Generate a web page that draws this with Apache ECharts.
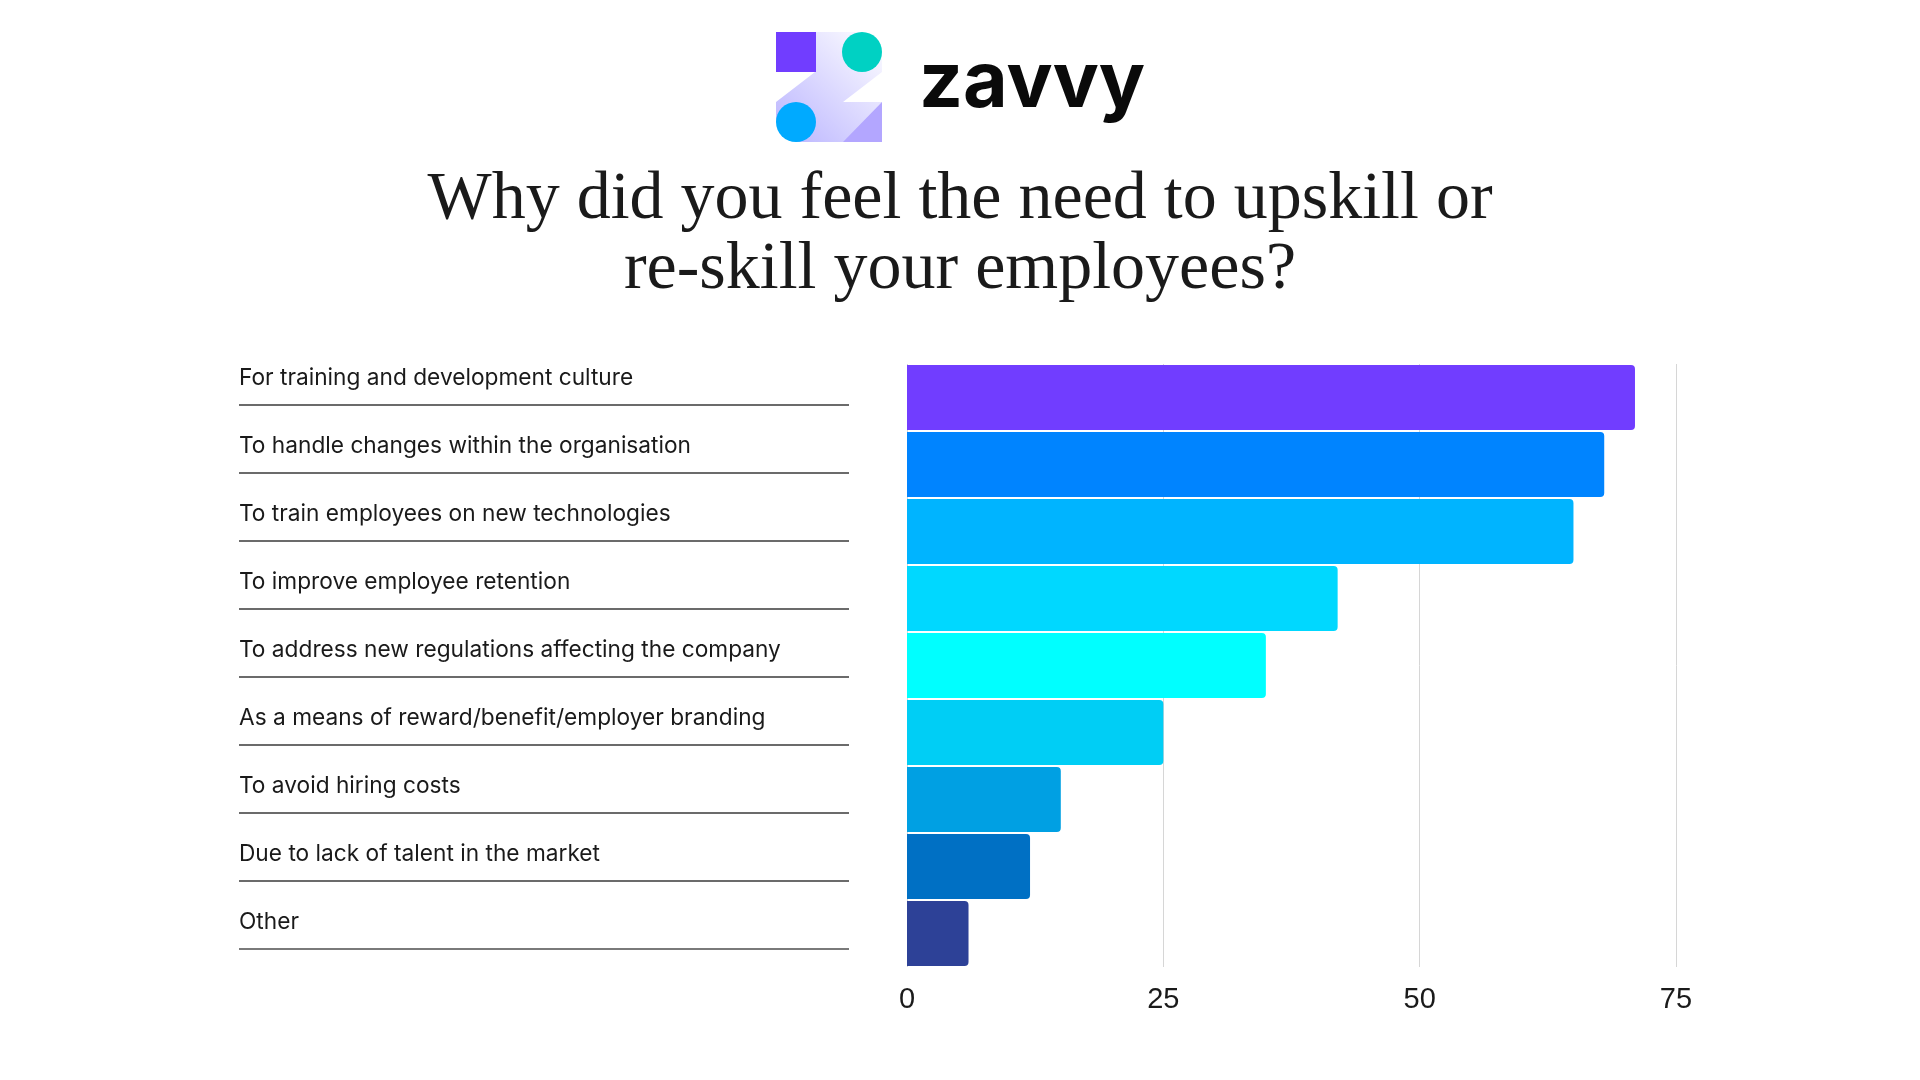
<!DOCTYPE html>
<html>
<head>
<meta charset="utf-8">
<title>Why did you feel the need to upskill or re-skill your employees?</title>
<script src="https://cdn.jsdelivr.net/npm/echarts@6/dist/echarts.min.js"></script>
<style>
  html, body { margin: 0; padding: 0; background: #fff; }
  #chart { width: 1920px; height: 1080px; }
</style>
</head>
<body>
<div id="chart"></div>
<script>
// 分类（从上到下）
const categories = [
  'For training and development culture',
  'To handle changes within the organisation',
  'To train employees on new technologies',
  'To improve employee retention',
  'To address new regulations affecting the company',
  'As a means of reward/benefit/employer branding',
  'To avoid hiring costs',
  'Due to lack of talent in the market',
  'Other',
]
// 数值
const values = [71, 68, 65, 42, 35, 25, 15, 12, 6]
// 每根柱子的颜色
const barColors = ['#713dff', '#0084ff', '#00b4ff', '#00d8ff', '#00ffff', '#00cef5', '#00a0e3', '#0070c4', '#2d4197']
// X轴刻度
const xTicks = [0, 25, 50, 75]

const chart = echarts.init(document.getElementById('chart'))

// logo: zavvy 图形
const logo = [
  {
    type: 'polygon',
    shape: {
      points: [[815, 32], [862, 32], [882, 52], [882, 72], [843, 102], [882, 102], [882, 142], [796, 142], [776, 122], [776, 102], [815, 72]],
    },
    style: {
      fill: {
        type: 'linear', x: 1, y: 0, x2: 0, y2: 1,
        colorStops: [
          { offset: 0, color: '#ffffff' },
          { offset: 1, color: '#b9b3ff' },
        ],
      },
    },
  },
  { type: 'rect', shape: { x: 776, y: 32, width: 40, height: 40 }, style: { fill: '#713dff' } },
  { type: 'circle', shape: { cx: 862, cy: 52, r: 20 }, style: { fill: '#00d1c3' } },
  { type: 'circle', shape: { cx: 796, cy: 122, r: 20 }, style: { fill: '#00aaff' } },
  { type: 'polygon', shape: { points: [[882, 102], [882, 142], [843, 142]] }, style: { fill: '#b3a6ff' } },
  {
    type: 'text',
    left: 919,
    top: 45,
    style: { text: 'zavvy', font: 'bold 77px Inter', fill: '#0a0a0a' },
  },
]

const option = {
  animation: false,
  backgroundColor: '#fff',
  title: {
    text: 'Why did you feel the need to upskill or\nre-skill your employees?',
    left: 'center',
    top: 160,
    textStyle: {
      fontFamily: 'Liberation Serif',
      fontWeight: 'normal',
      fontSize: 68,
      lineHeight: 70,
      color: '#1a1a1a',
    },
  },
  graphic: logo,
  grid: [
    // 柱状图区域
    { left: 907, right: 244, top: 364, height: 603 },
    // 左侧标签表格
    { left: 239, width: 610, top: 337, height: 612 },
  ],
  xAxis: [
    {
      gridIndex: 0,
      type: 'value',
      min: 0,
      max: 75,
      interval: 25,
      axisLine: { show: false },
      axisTick: { show: false },
      splitLine: { show: true, lineStyle: { color: '#d6d6d6', width: 1 } },
      axisLabel: {
        margin: 18,
        fontFamily: 'Liberation Sans',
        fontSize: 29,
        color: '#1a1a1a',
        formatter: (v) => (xTicks.includes(v) ? String(v) : ''),
      },
    },
    { gridIndex: 1, type: 'value', min: 0, max: 1, show: false },
  ],
  yAxis: [
    {
      gridIndex: 0,
      type: 'category',
      inverse: true,
      data: categories,
      axisLine: { show: false },
      axisTick: { show: false },
      axisLabel: { show: false },
    },
    {
      gridIndex: 1,
      type: 'category',
      inverse: true,
      data: categories,
      show: false,
    },
  ],
  series: [
    {
      type: 'bar',
      xAxisIndex: 0,
      yAxisIndex: 0,
      barCategoryGap: '3%',
      data: values.map((v, i) => ({
        value: v,
        itemStyle: { color: barColors[i], borderRadius: [0, 4, 4, 0] },
      })),
    },
    {
      // 左侧标签 + 下方分隔线
      type: 'custom',
      xAxisIndex: 1,
      yAxisIndex: 1,
      clip: false,
      data: categories.map((c, i) => [0, i]),
      renderItem(params, api) {
        const idx = api.value(1)
        const start = api.coord([0, idx])
        const end = api.coord([1, idx])
        const half = api.size([0, 1])[1] / 2
        const y = start[1] + half
        const last = idx === categories.length - 1
        return {
          type: 'group',
          children: [
            {
              type: 'line',
              shape: { x1: start[0], y1: y, x2: end[0], y2: y },
              style: { stroke: last ? '#7a7a7a' : '#3a3a3a', lineWidth: last ? 2 : 1.5 },
            },
            {
              type: 'text',
              x: start[0],
              y: y - 27,
              style: {
                text: categories[idx],
                font: '22.7px Inter',
                fill: '#1a1a1a',
                align: 'left',
                verticalAlign: 'middle',
              },
            },
          ],
        }
      },
    },
  ],
}

chart.setOption(option)
</script>
</body>
</html>
